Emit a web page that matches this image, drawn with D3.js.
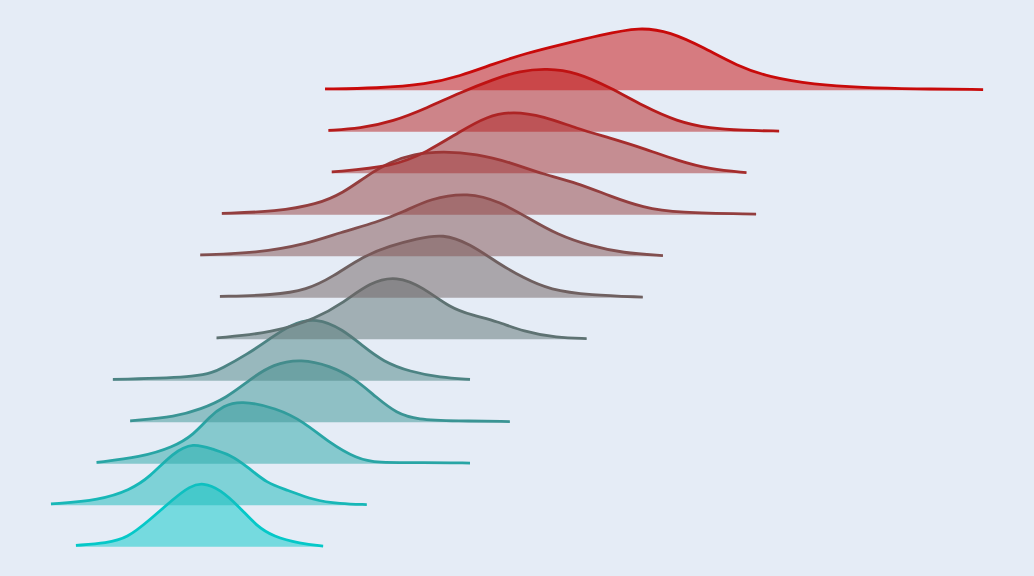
<!DOCTYPE html>
<html>
<head>
<meta charset="utf-8">
<script src="https://cdn.jsdelivr.net/npm/d3@7"></script>
<style>
  html, body { margin: 0; padding: 0; background: #E5ECF6; }
  #chart { width: 1034px; height: 576px; }
</style>
</head>
<body>
<div id="chart"></div>
<script>
// one ridge per category, bottom (cyan) to top (red)
const categories = ["data_point 0", "data_point 1", "data_point 2", "data_point 3",
    "data_point 4", "data_point 5", "data_point 6", "data_point 7",
    "data_point 8", "data_point 9", "data_point 10", "data_point 11"];

// x values where the density curve was read
const ridgeX = [
    [0.54, 1.19, 1.60, 2.08, 2.56, 2.92, 3.19, 3.54, 3.96, 4.31, 4.65, 5.21, 5.69],
    [0.02, 1.04, 1.67, 2.08, 2.56, 2.98, 3.40, 3.75, 4.10, 4.52, 4.94, 5.48, 6.04, 6.60],
    [0.97, 1.88, 2.57, 2.99, 3.33, 3.61, 3.96, 4.72, 5.28, 5.83, 6.39, 6.81, 7.77, 8.75],
    [1.67, 2.64, 3.13, 3.68, 4.17, 4.65, 5.24, 5.83, 6.32, 6.81, 7.22, 7.64, 8.47, 9.58],
    [1.31, 3.19, 3.60, 4.10, 4.58, 5.00, 5.56, 6.10, 6.52, 6.94, 7.50, 8.13, 8.75],
    [3.47, 4.65, 5.56, 6.11, 6.67, 7.22, 7.78, 8.33, 8.82, 9.31, 9.86, 10.56, 11.18],
    [3.54, 4.65, 5.35, 5.90, 6.53, 7.08, 7.64, 8.19, 8.75, 9.31, 9.86, 10.42, 11.25, 12.35],
    [3.13, 4.31, 5.35, 6.04, 6.81, 7.36, 7.92, 8.71, 9.38, 10.00, 10.56, 11.25, 11.94, 12.77],
    [3.58, 4.72, 5.56, 6.11, 6.60, 7.08, 7.57, 8.19, 8.89, 9.58, 10.28, 10.97, 11.67, 12.36, 13.06, 14.71],
    [5.87, 7.15, 7.85, 8.54, 9.10, 9.65, 10.28, 10.97, 11.67, 12.36, 13.06, 13.75, 14.51],
    [5.80, 6.46, 7.15, 7.85, 8.54, 9.24, 9.79, 10.35, 10.97, 11.67, 12.36, 13.06, 13.75, 14.44, 15.19],
    [5.73, 6.81, 7.85, 8.54, 9.24, 9.93, 10.63, 11.46, 12.29, 12.92, 13.61, 14.31, 15.00, 15.90, 16.94, 17.99, 19.44]
];

// relative density at those x values
const ridgeDensity = [
    [0.02, 0.06, 0.13, 0.42, 0.74, 0.95, 1.00, 0.90, 0.61, 0.32, 0.16, 0.05, 0.01],
    [0.02, 0.08, 0.24, 0.44, 0.82, 0.98, 0.87, 0.79, 0.61, 0.34, 0.24, 0.08, 0.02, 0.01],
    [0.02, 0.10, 0.26, 0.45, 0.74, 0.90, 0.99, 0.87, 0.66, 0.32, 0.08, 0.01, 0.02, 0.01],
    [0.02, 0.09, 0.20, 0.38, 0.67, 0.91, 0.99, 0.88, 0.70, 0.38, 0.14, 0.04, 0.02, 0.01],
    [0.02, 0.05, 0.20, 0.41, 0.65, 0.88, 0.99, 0.80, 0.54, 0.30, 0.14, 0.05, 0.02],
    [0.02, 0.10, 0.33, 0.57, 0.89, 0.99, 0.81, 0.49, 0.37, 0.28, 0.12, 0.02, 0.01],
    [0.02, 0.04, 0.12, 0.33, 0.65, 0.81, 0.92, 1.00, 0.84, 0.55, 0.31, 0.12, 0.04, 0.01],
    [0.02, 0.05, 0.19, 0.37, 0.53, 0.69, 0.90, 1.00, 0.85, 0.58, 0.34, 0.16, 0.05, 0.01],
    [0.02, 0.05, 0.16, 0.34, 0.61, 0.82, 0.95, 0.99, 0.95, 0.82, 0.63, 0.50, 0.29, 0.11, 0.03, 0.01],
    [0.02, 0.10, 0.33, 0.65, 0.89, 0.97, 0.89, 0.70, 0.55, 0.39, 0.20, 0.06, 0.01],
    [0.02, 0.05, 0.16, 0.37, 0.61, 0.82, 0.95, 0.99, 0.93, 0.69, 0.40, 0.16, 0.05, 0.02, 0.01],
    [0.02, 0.03, 0.09, 0.22, 0.41, 0.58, 0.71, 0.86, 0.99, 0.91, 0.67, 0.38, 0.20, 0.09, 0.04, 0.02, 0.01]
];

const lowColor = "rgb(5, 200, 200)";
const highColor = "rgb(200, 10, 10)";

const width = 1034, height = 576;

const svg = d3.select("#chart").append("svg")
    .attr("width", width)
    .attr("height", height);

svg.append("rect")
    .attr("width", width)
    .attr("height", height)
    .attr("fill", "#E5ECF6");

// scales
const x = d3.scaleLinear()
    .domain([0, 20])
    .range([50, 1010]);

const y = d3.scalePoint()
    .domain(categories)
    .range([546.7, 90.2]);

const h = d3.scaleLinear()
    .domain([0, 1])
    .range([0, 64]);

const colorAt = i => d3.interpolateRgb(lowColor, highColor)(i / (categories.length - 1));

// smooth like a kde line
const curve = d3.curveBasis;

categories.forEach((cat, i) => {
    const pts = ridgeX[i].map((v, j) => [v, ridgeDensity[i][j]]);
    const base = y(cat);
    const col = colorAt(i);

    const area = d3.area()
        .curve(curve)
        .x(d => x(d[0]))
        .y0(base)
        .y1(d => base - h(d[1]));

    const line = d3.line()
        .curve(curve)
        .x(d => x(d[0]))
        .y(d => base - h(d[1]));

    const g = svg.append("g").attr("class", "ridge");

    g.append("path")
        .datum(pts)
        .attr("d", area)
        .attr("fill", col)
        .attr("fill-opacity", 0.5);

    g.append("path")
        .datum(pts)
        .attr("d", line)
        .attr("fill", "none")
        .attr("stroke", col)
        .attr("stroke-width", 2.8)
        .attr("stroke-linejoin", "round");
});
</script>
</body>
</html>
